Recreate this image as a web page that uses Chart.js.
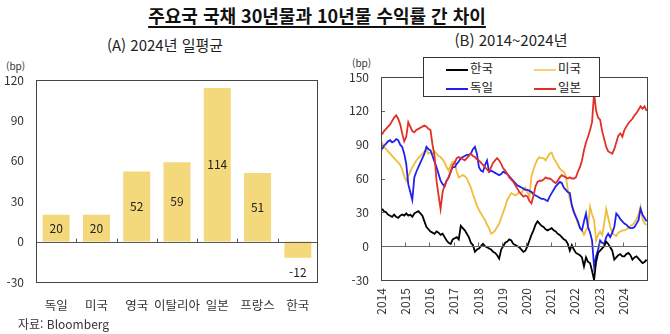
<!DOCTYPE html>
<html lang="ko">
<head>
<meta charset="utf-8">
<script src="https://cdn.jsdelivr.net/npm/chart.js@4.4.1/dist/chart.umd.min.js"></script>
<style>
  body { margin: 0; width: 670px; height: 334px; overflow: hidden; background: #fff;
         font-family: "Noto Sans CJK KR", "Noto Sans", sans-serif; color: #222; position: relative; }
  .t { position: absolute; white-space: nowrap; }
  #title { left: 0; width: 634px; top: 4px; text-align: center; font-size: 18px; line-height: 22px;
           font-weight: bold; color: #111; text-decoration: underline; text-decoration-thickness: 1.5px;
           text-underline-offset: 3px; }
  #subA { left: 0; width: 330px; top: 35px; text-align: center; font-size: 15px; line-height: 20px; }
  #subB { left: 411px; width: 200px; top: 30px; text-align: center; font-size: 15px; line-height: 20px; }
  .bp { font-size: 10px; line-height: 12px; color: #333; }
  #bpA { left: 6px; top: 60px; }
  #bpB { left: 352px; top: 57px; }
  #source { left: 18px; top: 316px; font-size: 12px; line-height: 16px; color: #333; }
  #wrapA { position: absolute; left: 0; top: 60px; }
  #wrapB { position: absolute; left: 335px; top: 55px; }
  #legend { position: absolute; left: 423px; top: 57px; width: 175px; height: 38px;
            border: 1px solid #333; background: #fff; font-size: 12.5px; }
  .item { position: absolute; height: 16px; line-height: 16px; }
  .item span { display: inline-block; width: 22px; height: 2px; vertical-align: middle; margin-right: 2px; }
</style>
</head>
<body>
<div class="t" id="title">주요국 국채 30년물과 10년물 수익률 간 차이</div>
<div class="t" id="subA">(A) 2024년 일평균</div>
<div class="t" id="subB">(B) 2014~2024년</div>
<div class="t bp" id="bpA">(bp)</div>
<div class="t bp" id="bpB">(bp)</div>
<div id="wrapA"><canvas id="chartA" width="330" height="256"></canvas></div>
<div id="wrapB"><canvas id="chartB" width="335" height="279"></canvas></div>
<div id="legend">
  <div class="item" style="left:22px;top:2px"><span style="background:#000"></span>한국</div>
  <div class="item" style="left:110px;top:2px"><span style="background:#f5d27a"></span>미국</div>
  <div class="item" style="left:22px;top:21px"><span style="background:#2020f0"></span>독일</div>
  <div class="item" style="left:110px;top:21px"><span style="background:#e03028"></span>일본</div>
</div>
<div class="t" id="source">자료: Bloomberg</div>
<script>
// (A) 2024 daily average spread, bp
const countries = ['독일', '미국', '영국', '이탈리아', '일본', '프랑스', '한국'];
const avgSpread = [20, 20, 52, 59, 114, 51, -12];

// (B) monthly readings Jan 2014 ~ Dec 2024, bp
const startYear = 2014;
const korea = [
  33, 31, 30, 28, 27, 26, 28, 26, 25, 27, 28, 27,
  29, 27, 28, 26, 29, 30, 31, 29, 27, 22, 17, 15,
  13, 12, 11, 13, 12, 10, 11, 8, 5, 3, 2, 6,
  7, 8, 6, 18, 16, 14, 11, 8, 3, 1, -5, -3,
  -2, 0, 2, 0, -1, -2, -3, -5, -6, -8, -11, -3,
  0, 3, 4, 6, 5, 2, 1, 0, -1, -3, -5, -4,
  0, 5, 10, 14, 19, 22, 20, 18, 17, 15, 14, 15,
  16, 14, 13, 11, 10, 8, 6, 5, 2, -4, 1, -3,
  -6, -7, -8, -10, -18, -10, -14, -15, -22, -30, -14, -6,
  -4, -2, 0, 4, 2, -1, -4, -12, -10, -8, -7, -9,
  -9, -7, -6, -8, -12, -10, -9, -11, -13, -15, -14, -12
];
const usa = [
  92, 88, 86, 84, 82, 80, 78, 76, 74, 72, 68, 62,
  58, 62, 66, 70, 73, 76, 78, 80, 82, 84, 85, 82,
  83, 82, 84, 82, 80, 79, 77, 74, 70, 67, 72, 75,
  75, 66, 61, 62, 63, 62, 60, 56, 52, 46, 41, 36,
  32, 29, 26, 23, 19, 16, 11, 12, 14, 17, 20, 25,
  30, 35, 41, 44, 47, 46, 45, 46, 48, 47, 50, 52,
  48, 44, 62, 68, 73, 77, 79, 78, 78, 76, 79, 82,
  83, 78, 75, 72, 69, 67, 66, 62, 50, 42, 36, 32,
  26, 20, 17, 14, 10, 14, 17, 35, 28, 23, 5, 10,
  13, 10, 20, 33, 25, 17, 12, 10, 9, 12, 13, 14,
  14, 15, 16, 18, 19, 21, 24, 28, 35, 24, 20, 19
];
const germany = [
  86, 89, 91, 93, 94, 92, 93, 95, 94, 90, 88, 82,
  73, 55, 48, 41, 61, 66, 70, 74, 78, 82, 88, 86,
  85, 80, 75, 70, 64, 58, 55, 53, 58, 61, 66, 70,
  70, 73, 75, 78, 79, 80, 81, 81, 82, 86, 88, 82,
  70, 67, 66, 72, 76, 66, 67, 66, 65, 64, 63, 64,
  66, 65, 64, 62, 60, 58, 56, 54, 53, 52, 51, 50,
  50, 49, 48, 46, 45, 44, 43, 42, 42, 41, 40, 44,
  47, 50, 53, 55, 57, 56, 52, 50, 48, 47, 36, 30,
  26, 22, 16, 14, 22, 29, 17, 12, 5, -18, -9, -3,
  5, 3, 2, 8, 11, 8, 12, 17, 29, 27, 24, 22,
  20, 19, 17, 16, 16, 17, 20, 23, 33, 28, 25, 22
];
const japan = [
  99, 102, 104, 106, 108, 111, 114, 116, 113, 108, 100, 93,
  97, 110, 106, 102, 101, 103, 104, 105, 106, 107, 106, 104,
  103, 90, 80, 58, 45, 33, 48, 54, 58, 61, 66, 72,
  74, 78, 79, 78, 77, 76, 78, 80, 82, 80, 79, 77,
  76, 74, 72, 70, 68, 66, 70, 74, 76, 78, 76, 73,
  69, 67, 64, 61, 59, 57, 54, 51, 48, 46, 44, 45,
  44, 40, 38, 45, 53, 57, 58, 58, 59, 61, 60, 60,
  59, 57, 56, 58, 61, 63, 62, 61, 60, 61, 60, 60,
  61, 66, 70, 76, 85, 92, 97, 103, 110, 136, 120, 114,
  112, 102, 95, 88, 84, 83, 82, 86, 92, 98, 100, 97,
  103, 106, 109, 111, 113, 116, 118, 121, 124, 122, 124, 120
];

const FONT = '"Noto Sans CJK KR", "Noto Sans", sans-serif';

const toPoints = arr => arr.map((v, i) => ({ x: startYear + (i + 0.5) / 12, y: v }));

// frame around the plot, zero line and small inner ticks
const framePlugin = {
  id: 'framePlugin',
  afterDraw(chart, args, opts) {
    const { ctx, chartArea: a, scales } = chart;
    ctx.save();
    ctx.lineWidth = 1;
    const y0 = Math.round(scales.y.getPixelForValue(0)) + 0.5;
    ctx.strokeStyle = opts.zeroColor;
    ctx.beginPath();
    ctx.moveTo(a.left, y0);
    ctx.lineTo(a.right, y0);
    opts.tickXs(chart).forEach(x => {
      x = Math.round(x) + 0.5;
      ctx.moveTo(x, y0);
      ctx.lineTo(x, y0 - 4);
    });
    if (opts.yTicks) {
      scales.y.ticks.forEach(t => {
        const y = Math.round(scales.y.getPixelForValue(t.value)) + 0.5;
        ctx.moveTo(a.left, y);
        ctx.lineTo(a.left + 4, y);
      });
    }
    ctx.stroke();
    ctx.strokeStyle = opts.color;
    ctx.strokeRect(Math.round(a.left) + 0.5, Math.round(a.top) + 0.5,
      Math.round(a.right - a.left) - 1, Math.round(a.bottom - a.top));
    ctx.restore();
  }
};

const barValueLabels = {
  id: 'barValueLabels',
  afterDatasetsDraw(chart) {
    const ctx = chart.ctx;
    ctx.save();
    ctx.font = '12px ' + FONT;
    ctx.fillStyle = '#222';
    ctx.textAlign = 'center';
    ctx.textBaseline = 'middle';
    chart.getDatasetMeta(0).data.forEach((bar, i) => {
      const v = avgSpread[i];
      const y = v >= 0 ? (bar.y + bar.base) / 2 : bar.y + 15;
      ctx.fillText(String(v), bar.x, y);
    });
    ctx.restore();
  }
};

new Chart(document.getElementById('chartA'), {
  type: 'bar',
  data: {
    labels: countries,
    datasets: [{
      data: avgSpread,
      backgroundColor: '#f3d97c',
      borderWidth: 0,
      categoryPercentage: 1,
      barPercentage: 0.67
    }]
  },
  options: {
    responsive: false,
    animation: false,
    layout: { padding: { top: 20, right: 12, bottom: 4, left: 0 } },
    plugins: {
      legend: { display: false },
      tooltip: { enabled: false },
      framePlugin: {
        color: '#444', zeroColor: '#555', yTicks: false,
        tickXs: chart => {
          const xs = [];
          for (let i = 1; i < countries.length; i++) {
            xs.push((chart.scales.x.getPixelForValue(i - 1) + chart.scales.x.getPixelForValue(i)) / 2);
          }
          return xs;
        }
      }
    },
    scales: {
      x: {
        grid: { display: false },
        border: { display: false },
        ticks: { color: '#333', font: { family: FONT, size: 12.5 }, padding: 8, maxRotation: 0, autoSkip: false },
        afterFit: s => { s.height = 30; }
      },
      y: {
        min: -30, max: 120,
        grid: { display: false, drawTicks: false },
        border: { display: false },
        ticks: { stepSize: 30, color: '#333', font: { family: FONT, size: 12 }, padding: 12 },
        afterFit: s => { s.width = 36; }
      }
    }
  },
  plugins: [framePlugin, barValueLabels]
});

new Chart(document.getElementById('chartB'), {
  type: 'line',
  data: {
    datasets: [
      { label: '한국', data: toPoints(korea), borderColor: '#000000', order: 0 },
      { label: '미국', data: toPoints(usa), borderColor: '#f0bd3c', order: 3 },
      { label: '독일', data: toPoints(germany), borderColor: '#2020f0', order: 2 },
      { label: '일본', data: toPoints(japan), borderColor: '#e03028', order: 1 }
    ]
  },
  options: {
    responsive: false,
    animation: false,
    elements: { point: { radius: 0 }, line: { borderWidth: 1.8, tension: 0 } },
    layout: { padding: { top: 22, right: 6, bottom: 0, left: 0 } },
    plugins: {
      legend: { display: false },
      tooltip: { enabled: false },
      framePlugin: {
        color: '#444', zeroColor: '#666', yTicks: true,
        tickXs: chart => {
          const xs = [];
          for (let y = startYear + 1; y <= 2024; y++) xs.push(chart.scales.x.getPixelForValue(y));
          return xs;
        }
      }
    },
    scales: {
      x: {
        type: 'linear',
        min: 2014, max: 2025,
        grid: { display: false, drawTicks: false },
        border: { display: false },
        ticks: {
          stepSize: 1, autoSkip: false, minRotation: 90, maxRotation: 90, padding: 8,
          color: '#333', font: { family: FONT, size: 12 },
          callback: v => (v <= 2024 ? String(v) : '')
        },
        afterFit: s => { s.height = 54; }
      },
      y: {
        min: -30, max: 150,
        grid: { display: false, drawTicks: false },
        border: { display: false },
        ticks: { stepSize: 30, color: '#333', font: { family: FONT, size: 12 }, padding: 12 },
        afterFit: s => { s.width = 46; }
      }
    }
  },
  plugins: [framePlugin]
});
</script>
</body>
</html>
